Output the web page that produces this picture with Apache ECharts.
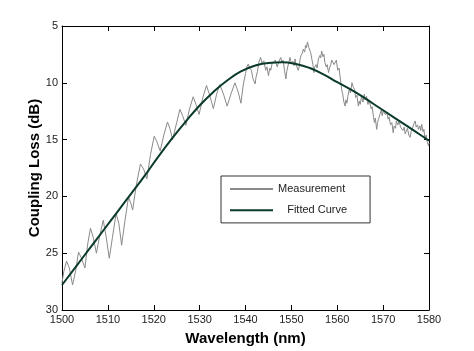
<!DOCTYPE html>
<html><head><meta charset="utf-8">
<script src="https://cdn.jsdelivr.net/npm/echarts@6/dist/echarts.min.js"></script>
<style>html,body{margin:0;padding:0;background:#fff}#c{width:474px;height:351px}</style>
</head><body><div id="c"></div>
<script>
const measWavelength = [1500,1500.4,1501.0,1501.6,1502.3,1503.0,1503.6,1504.2,1505.0,1505.6,1506.2,1506.8,1507.5,1508.2,1509.0,1509.6,1510.3,1511.0,1511.8,1512.4,1513.0,1513.7,1514.5,1515.0,1515.4,1516.2,1517.1,1517.8,1518.5,1519.3,1520.1,1520.7,1521.4,1522.2,1523.0,1523.5,1524.1,1525.0,1525.7,1526.3,1527.0,1527.8,1528.6,1529.2,1529.9,1530.7,1531.5,1532.2,1533.0,1533.7,1534.4,1535.2,1536.0,1536.9,1537.7,1538.4,1539.0,1539.5,
  1540.0,1540.3,1540.6,1540.9,1541.3,1541.6,1542.1,1542.3,1542.6,1542.9,1543.3,1543.6,1544.0,1544.4,1544.7,1545.0,1545.3,1545.5,1545.8,1546.1,1546.5,1546.9,1547.3,1547.7,1547.9,1548.2,1548.5,1548.8,1549.0,1549.2,1549.5,1549.7,1550.0,1550.3,1550.6,1550.8,1551.0,1551.2,1551.5,1551.7,1551.9,1552.1,1552.4,1552.6,1552.9,1553.1,1553.3,1553.5,1553.8,1554.0,1554.2,1554.5,1554.7,1554.9,1555.1,1555.4,1555.6,1555.9,1556.2,1556.4,1556.6,1556.9,1557.1,1557.3,1557.6,1557.8,1558.1,1558.3,1558.6,1558.8,1559.0,1559.3,1559.5,1559.8,
  1560.1,1560.4,1560.6,1560.8,1561.0,1561.2,1561.4,1561.7,1561.9,1562.1,1562.3,1562.6,1562.9,1563.2,1563.5,1563.8,1564.0,1564.3,1564.6,1564.8,1565.0,1565.3,1565.6,1565.9,1566.1,1566.4,1566.7,1566.9,1567.1,1567.4,1567.6,1567.9,1568.1,1568.3,1568.6,1568.8,1569.0,1569.3,1569.6,1569.8,
  1570.0,1570.3,1570.5,1570.8,1571.1,1571.3,1571.6,1571.9,1572.2,1572.4,1572.7,1572.9,1573.2,1573.5,1573.8,1574.0,1574.3,1574.6,1574.8,1575.1,1575.3,1575.6,1575.9,1576.1,1576.4,1576.7,1577.0,1577.2,1577.5,1577.7,1578.0,1578.2,1578.4,1578.7,1578.9,1579.1,1579.4,1579.6,1579.9,1580.0];
const measLoss = [27.6,26.6,25.7,26.3,27.8,26.5,24.9,25.4,26.3,24.2,22.8,23.6,25.0,23.5,22.1,23.5,25.45,23.6,21.5,22.4,24.3,22.2,20.06,20.6,21.2,19.0,17.15,17.6,18.46,16.3,14.7,15.2,16.0,14.6,13.45,14.0,15.0,13.5,12.34,12.9,13.74,12.3,11.23,11.9,12.78,11.3,10.24,11.1,12.28,11.0,10.16,11.0,12.05,10.9,10.0,10.8,11.8,10.2,
  9.2,8.6,8.35,8.7,8.9,9.6,10.1,9.5,9.0,8.2,7.77,8.3,8.06,8.9,8.6,9.37,8.7,8.9,8.3,8.35,8.0,8.6,8.1,7.77,8.2,8.0,8.9,9.66,9.0,8.6,8.1,7.77,8.3,8.1,8.5,7.9,8.4,8.3,8.9,8.6,7.9,7.6,7.4,7.03,7.3,6.7,6.9,6.4,6.9,7.0,7.33,8.0,8.4,9.1,8.6,8.4,8.7,7.9,7.6,7.8,7.2,7.7,7.5,8.2,8.6,8.4,9.1,8.7,8.4,8.0,7.9,8.4,8.26,8.0,
  8.9,8.7,9.4,10.0,10.7,11.0,11.6,12.05,11.5,11.8,11.2,10.6,10.9,10.0,10.4,10.6,11.3,11.1,12.05,11.6,11.9,11.2,11.7,11.0,11.5,11.2,11.9,11.5,11.76,12.3,12.1,13.0,13.5,13.1,14.1,13.5,13.2,12.8,12.4,12.9,
  12.5,12.34,12.8,12.6,13.2,13.0,13.7,13.5,14.4,13.8,14.0,13.36,13.7,13.4,13.9,13.8,14.2,13.9,14.5,14.4,14.0,14.6,14.8,14.3,14.0,13.6,13.36,13.9,13.7,14.1,13.8,14.2,13.65,14.3,14.1,14.96,14.6,15.2,15.55,15.3];
const fitWavelength = [1500,1503,1506,1509,1512,1515,1518,1521,1524,1527,1530,1533,1536,1539,1542,1545,1548,1551,1554,1557,1560,1563,1566,1569,1572,1575,1578,1580];
const fitLoss = [27.8,26.2,24.6,23.0,21.4,19.8,18.2,16.5,14.9,13.4,12.0,10.8,9.8,9.0,8.5,8.25,8.2,8.35,8.7,9.25,9.95,10.6,11.35,12.15,12.95,13.75,14.55,15.1];
const seriesNames = ['Measurement', 'Fitted Curve'];

const zip = (a, b) => a.map((v, i) => [v, b[i]]);
const FONT = 'Liberation Sans, Arial, sans-serif';
const chart = echarts.init(document.getElementById('c'), null, {renderer: 'canvas'});
const axisCommon = {
  axisLine: {show: true, onZero: false, lineStyle: {color: '#000', width: 1}},
  axisTick: {show: true, inside: true, length: 5, lineStyle: {color: '#000'}},
  splitLine: {show: false}
};
chart.setOption({
  animation: false,
  backgroundColor: '#fff',
  grid: {left: 62, right: 45, top: 26, bottom: 39, containLabel: false},
  xAxis: [
    Object.assign({type: 'value', position: 'bottom', min: 1500, max: 1580, interval: 10,
      axisLabel: {fontSize: 11, color: '#222', margin: 4, fontFamily: FONT, formatter: v => String(v)},
      name: 'Wavelength (nm)', nameLocation: 'middle', nameGap: 21, nameMoveOverlap: false,
      nameTextStyle: {fontSize: 15, fontWeight: 'bold', color: '#000', fontFamily: FONT}}, axisCommon),
    Object.assign({type: 'value', position: 'top', min: 1500, max: 1580, interval: 10,
      axisLabel: {show: false}}, axisCommon)
  ],
  yAxis: [
    Object.assign({type: 'value', position: 'left', inverse: true, min: 5, max: 30, interval: 5,
      axisLabel: {fontSize: 11, color: '#222', margin: 4, fontFamily: FONT},
      name: 'Coupling Loss (dB)', nameLocation: 'middle', nameGap: 20, nameMoveOverlap: false,
      nameTextStyle: {fontSize: 15, fontWeight: 'bold', color: '#000', fontFamily: FONT}}, axisCommon),
    Object.assign({type: 'value', position: 'right', inverse: true, min: 5, max: 30, interval: 5,
      axisLabel: {show: false}}, axisCommon)
  ],
  legend: {
    data: seriesNames, orient: 'vertical', left: 221, top: 176,
    padding: [7.5, 23, 7, 8], itemWidth: 43, itemHeight: 14, itemGap: 10,
    borderColor: '#333', borderWidth: 1, backgroundColor: '#fff',
    itemStyle: {opacity: 0},
    textStyle: {fontSize: 11, color: '#222', fontFamily: FONT},
    formatter: n => n === 'Fitted Curve' ? '   ' + n : n
  },
  series: [
    {name: seriesNames[0], type: 'line', data: zip(measWavelength, measLoss), symbol: 'none',
      lineStyle: {color: '#8a8a8a', width: 1}, itemStyle: {color: '#8a8a8a'}, xAxisIndex: 0, yAxisIndex: 0, z: 2},
    {name: seriesNames[1], type: 'line', data: zip(fitWavelength, fitLoss), symbol: 'none', smooth: true,
      lineStyle: {color: '#0b3a2a', width: 2}, itemStyle: {color: '#0b3a2a'}, xAxisIndex: 0, yAxisIndex: 0, z: 3}
  ]
});
</script></body></html>
